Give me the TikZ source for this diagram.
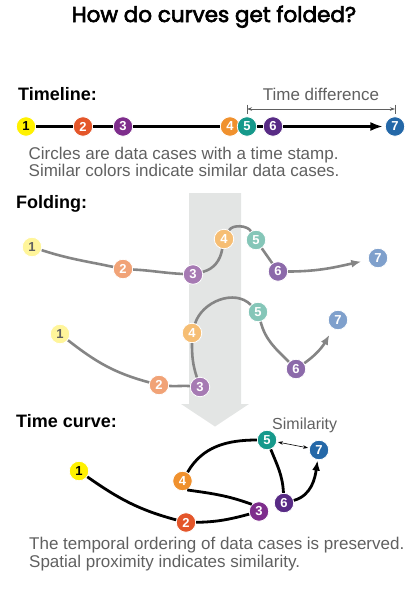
\documentclass[tikz,border=0pt]{standalone}
\usepackage{fontspec}
\setmainfont{Liberation Sans}
\newfontfamily\titlefont[FakeBold=3]{Poppins}
\usetikzlibrary{arrows.meta}
\definecolor{cA}{HTML}{FFF100}
\definecolor{cB}{HTML}{E4562A}
\definecolor{cC}{HTML}{7E2D8C}
\definecolor{cD}{HTML}{F0912E}
\definecolor{cE}{HTML}{16998B}
\definecolor{cF}{HTML}{582B85}
\definecolor{cG}{HTML}{2468A8}
\definecolor{lA}{HTML}{FFF59A}
\definecolor{lB}{HTML}{F1A377}
\definecolor{lC}{HTML}{A67AB3}
\definecolor{lD}{HTML}{F6BE74}
\definecolor{lE}{HTML}{85C6B8}
\definecolor{lF}{HTML}{8C6AAA}
\definecolor{lG}{HTML}{7FA0CC}
\definecolor{bandgray}{HTML}{E3E5E4}
\definecolor{curvegray}{HTML}{858585}
\definecolor{txtgray}{HTML}{606060}
\begin{document}
\begin{tikzpicture}[x=1pt,y=-1pt,
  dot/.style={circle, draw=white, line width=0.8pt, minimum size=19.5pt, inner sep=0pt,
    font=\fontsize{13}{13}\selectfont\bfseries, text=white},
  head/.style={anchor=base west, font=\fontsize{18}{20}\selectfont\bfseries, text=black},
  desc/.style={anchor=base west, font=\fontsize{17}{17}\selectfont, text=txtgray, inner sep=0pt},
  fold/.style={draw=curvegray, line width=2.6pt},
  tc/.style={draw=black, line width=2.8pt},
  foldtip/.style={-{Latex[length=10pt,width=8pt]}},
  tctip/.style={-{Latex[length=10pt,width=8pt]}}
]
\useasboundingbox (0,0) rectangle (412,590);

% title
\node[anchor=base, inner sep=0pt, font=\titlefont\fontsize{21.5}{21.5}\selectfont] (title) at (214,22) {How do curves get folded?};

% Timeline
\node[head, inner sep=0pt] (hT) at (18,100.7) {Timeline:};
\node[dot, fill=cA, text=black] (t1) at (26,126.5) {1};
\node[dot, fill=cB] (t2) at (83,126.5) {2};
\node[dot, fill=cC] (t3) at (123,126.5) {3};
\node[dot, fill=cD] (t4) at (230,126.5) {4};
\node[dot, fill=cE] (t5) at (247,126.5) {5};
\node[dot, fill=cF] (t6) at (273,126.5) {6};
\node[dot, fill=cG] (t7) at (395,126.5) {7};
\draw[line width=2.6pt] (t1) -- (t2) (t2) -- (t3) (t3) -- (t4) (t5) -- (t6);
\draw[line width=2.6pt, -{Latex[length=13pt,width=9pt]}, shorten >=1.5pt] (t6) -- (t7);

\coordinate (b1) at (247,109);
\coordinate (b2) at (395,109);
\draw[txtgray, line width=0.6pt] (247,104.5) -- (247,113.5) (395,104.5) -- (395,113.5);
\draw[txtgray, line width=0.6pt, {Stealth[length=5pt,width=3.5pt]}-{Stealth[length=5pt,width=3.5pt]}] (b1) -- (b2);
\node[desc, anchor=base] (td) at (321,100.5) {Time difference};

\node[desc] (d1) at (28.5,159.3) {Circles are data cases with a time stamp.};
\node[desc] (d2) at (28.5,176.7) {Similar colors indicate similar data cases.};

% Folding
\node[head, inner sep=0pt] (hF) at (16,208) {Folding:};
\fill[bandgray] (189,193) -- (241,193) -- (241,404) -- (249,404) -- (215,426.5) -- (181,404) -- (189,404) -- cycle;

\node[dot, fill=lA, text=txtgray] (f1) at (32,247) {1};
\node[dot, fill=lB] (f2) at (123,269) {2};
\node[dot, fill=lC] (f3) at (193,274.5) {3};
\node[dot, fill=lD] (f4) at (224,239) {4};
\node[dot, fill=lE] (f5) at (256,240) {5};
\node[dot, fill=lF] (f6) at (278,271.5) {6};
\node[dot, fill=lG] (f7) at (378,258) {7};
\draw[fold] (f1) to[out=-18,in=168] (f2);
\draw[fold] (f2) to[out=-3,in=177] (f3);
\draw[fold] (f3) to[out=15,in=-100] (f4);
\draw[fold] (f4) to[out=60,in=120,looseness=0.8] (f5);
\draw[fold] (f5) -- (f6);
\draw[fold, foldtip, shorten >=7pt] (f6) to[out=0,in=-168] (f7);

\node[dot, fill=lA, text=txtgray] (g1) at (60,334) {1};
\node[dot, fill=lB] (g2) at (159,385) {2};
\node[dot, fill=lC] (g3) at (200,387) {3};
\node[dot, fill=lD] (g4) at (192,333) {4};
\node[dot, fill=lE] (g5) at (258,312) {5};
\node[dot, fill=lF] (g6) at (296,369) {6};
\node[dot, fill=lG] (g7) at (338,320) {7};
\draw[fold] (g1) to[out=-38,in=165] (g2);
\draw[fold] (g2) to[out=-5,in=175] (g3);
\draw[fold] (g3) to[out=108,in=-90] (g4);
\draw[fold] (g4) to[out=72,in=135] (g5);
\draw[fold] (g5) to[out=-75,in=135] (g6);
\draw[fold, foldtip, shorten >=7pt] (g6) to[out=35,in=-120] (g7);

% Time curve
\node[head, inner sep=0pt] (hC) at (16,427) {Time curve:};
\node[desc, text=txtgray, font=\fontsize{16}{16}\selectfont] (sim) at (272,429.3) {Similarity};

\node[dot, fill=cA, text=black] (k1) at (79,471) {1};
\node[dot, fill=cB] (k2) at (186,522.5) {2};
\node[dot, fill=cC] (k3) at (259,511.5) {3};
\node[dot, fill=cD] (k4) at (182.5,481) {4};
\node[dot, fill=cE] (k5) at (267,440) {5};
\node[dot, fill=cF] (k6) at (284,503) {6};
\node[dot, fill=cG] (k7) at (319,450) {7};
\draw[tc] (k1) to[out=-35,in=165] (k2);
\draw[tc] (k2) to[out=1,in=-165] (k3);
\draw[tc] (k3.135) to[out=160,in=-8] (k4.-62);
\draw[tc] (k4) to[out=60,in=180] (k5);
\draw[tc] (k5) to[out=-68,in=93] (k6);
\draw[tc, tctip, shorten >=0.5pt] (k6) to[out=15,in=-98] (k7);
\draw[line width=0.6pt, {Stealth[length=5pt,width=3.5pt]}-{Stealth[length=5pt,width=3.5pt]}, shorten <=1pt, shorten >=1pt] (k5) -- (k7);

\node[desc] (e1) at (29,549) {The temporal ordering of data cases is preserved.};
\node[desc] (e2) at (29,567.3) {Spatial proximity indicates similarity.};
\end{tikzpicture}
\end{document}
